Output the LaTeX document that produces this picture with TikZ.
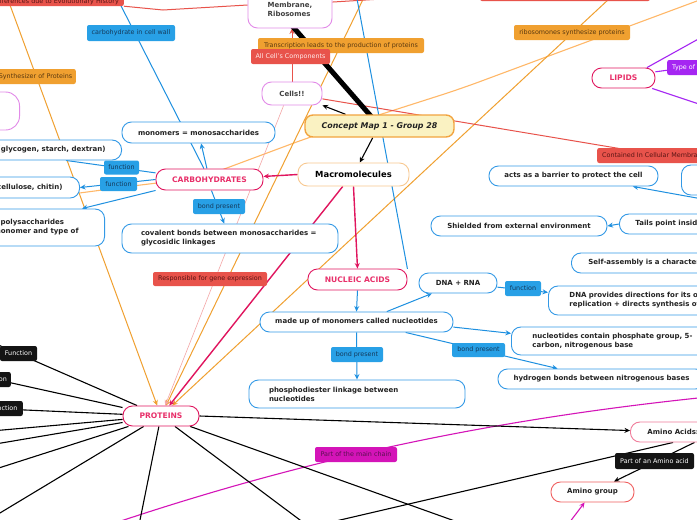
\documentclass[tikz,border=0pt]{standalone}
\usepackage{fontspec}
\setmainfont{DejaVu Sans}
\usetikzlibrary{arrows.meta,calc}
\pgfdeclarelayer{bg}
\pgfsetlayers{bg,main}
\definecolor{bluB}{HTML}{3399E6}
\definecolor{bluLn}{HTML}{1E90E0}
\definecolor{bluF}{HTML}{28A0E6}
\definecolor{bluT}{HTML}{143A5C}
\definecolor{ornF}{HTML}{F0A030}
\definecolor{ornT}{HTML}{5C3A10}
\definecolor{ornLn}{HTML}{F0A030}
\definecolor{ornLight}{HTML}{FFB868}
\definecolor{redF}{HTML}{E8534B}
\definecolor{redT}{HTML}{5A1515}
\definecolor{redLn}{HTML}{E8534B}
\definecolor{crim}{HTML}{E0155E}
\definecolor{crimT}{HTML}{E8306A}
\definecolor{vio}{HTML}{A526F2}
\definecolor{mag}{HTML}{D414B8}
\definecolor{magT}{HTML}{5A1050}
\definecolor{pinkB}{HTML}{E28BE8}
\definecolor{pinkLn}{HTML}{F4A6A6}
\definecolor{yelF}{HTML}{FAF2C2}
\definecolor{yelB}{HTML}{F2A440}
\definecolor{macB}{HTML}{F8C890}
\definecolor{aaB}{HTML}{F07C9A}
\definecolor{agB}{HTML}{F06060}
\definecolor{boxT}{HTML}{222222}
\definecolor{blkF}{HTML}{141414}
\tikzset{
  bx/.style={draw=bluB, line width=0.9pt, fill=white, rounded corners=9.5pt, text=boxT,
    font=\fontsize{7}{9}\selectfont\bfseries, inner sep=0pt, inner xsep=6pt},
  cbx/.style={bx, draw=crim, text=crimT, font=\fontsize{7.6}{9}\selectfont\bfseries},
  vbx/.style={bx, draw=pinkB},
  lbl/.style={rounded corners=2pt, inner sep=0pt, inner xsep=3.5pt, font=\fontsize{6.4}{7}\selectfont},
  blbl/.style={lbl, fill=bluF, text=bluT},
  olbl/.style={lbl, fill=ornF, text=ornT},
  rlbl/.style={lbl, fill=redF, text=redT},
  vlbl/.style={lbl, fill=vio, text=white},
  mlbl/.style={lbl, fill=mag, text=magT},
  klbl/.style={lbl, fill=blkF, text=white},
  bline/.style={draw=bluLn, line width=1pt},
  oline/.style={draw=ornLn, line width=1pt},
  olight/.style={draw=ornLight, line width=1.1pt},
  rline/.style={draw=redLn, line width=1pt},
  cline/.style={draw=crim, line width=1.4pt},
  kline/.style={draw=black, line width=1.1pt},
  vline/.style={draw=vio, line width=1.1pt},
  mline/.style={draw=mag, line width=1.1pt},
  pline/.style={draw=pinkLn, line width=0.6pt},
  >={Stealth[length=5.5pt,width=5pt]}
}
\begin{document}
\begin{tikzpicture}[x=1pt,y=-1pt]
\useasboundingbox (0,0) rectangle (697,520);
\clip (0,0) rectangle (697,520);

% ---------- main nodes ----------
\node[vbx, minimum width=84, minimum height=46, align=left, text=black!75] (top) at (290,5) {Cytoplasm,\\Membrane,\\Ribosomes};
\node[vbx, minimum width=60, minimum height=23, text=black!75] (cells) at (292,93.5) {Cells!!};
\node[draw=yelB, fill=yelF, line width=1.4pt, rounded corners=8pt, minimum width=149, minimum height=22,
  inner sep=0pt, text=boxT, font=\fontsize{7.9}{9}\selectfont\bfseries\itshape] (cm) at (379.5,126) {Concept Map 1 - Group 28};
\node[bx, draw=macB, minimum width=111, minimum height=23, text=black, font=\fontsize{8.4}{10}\selectfont\bfseries] (mac) at (353.5,174.5) {Macromolecules};
\node[cbx, minimum width=107, minimum height=21] (carb) at (209.5,179.5) {CARBOHYDRATES};
\node[bx, minimum width=153, minimum height=21] (mono) at (198.5,132.5) {monomers = monosaccharides};
\node[bx, anchor=east, inner xsep=16pt, minimum height=20] (gly) at (122,150) {(glycogen, starch, dextran)};
\node[bx, anchor=east, inner xsep=17pt, minimum height=21] (cel) at (80,187.5) {(cellulose, chitin)};
\node[bx, anchor=east, inner xsep=26pt, minimum height=37, align=left] (poly) at (105,227.5) {\hspace*{7pt}polysaccharides\\monomer and type of};
\node[bx, text width=178pt, inner xsep=19pt, minimum height=29, align=left] (cov) at (230,238.5) {covalent bonds between monosaccharides =\\glycosidic linkages};
\node[cbx, minimum width=99, minimum height=21] (nuc) at (357.5,279.5) {NUCLEIC ACIDS};
\node[bx, minimum width=193, minimum height=20] (mad) at (356.5,322) {made up of monomers called nucleotides};
\node[bx, text width=176pt, inner xsep=20pt, minimum height=28, align=left] (pho) at (357,394) {phosphodiester linkage between\\nucleotides};
\node[bx, minimum width=78, minimum height=20] (dna) at (458,283) {DNA + RNA};
\node[bx, anchor=west, text width=190pt, inner xsep=21pt, minimum height=29, align=left] (dnap) at (548,300.5) {DNA provides directions for its own\\replication + directs synthesis of RNA};
\node[bx, anchor=west, inner xsep=17pt, minimum height=20] (self) at (571,263) {Self-assembly is a characteristic of phospholipids};
\node[bx, anchor=west, text width=175pt, inner xsep=21pt, minimum height=28, align=left] (nuct) at (511,341) {nucleotides contain phosphate group, 5-\\carbon, nitrogenous base};
\node[bx, minimum width=207, minimum height=20] (hyd) at (601.5,379) {hydrogen bonds between nitrogenous bases};
\node[bx, minimum width=176, minimum height=20] (shi) at (519,226) {Shielded from external environment};
\node[bx, anchor=west, inner xsep=16pt, minimum height=20] (tail) at (619,224) {Tails point inside};
\node[bx, minimum width=169, minimum height=20] (act) at (573.5,176) {acts as a barrier to protect the cell};
\node[bx, anchor=west, minimum width=80, minimum height=30] (unk) at (681,180) {};
\node[cbx, minimum width=63, minimum height=20] (lip) at (623.5,78) {LIPIDS};
\node[cbx, minimum width=76, minimum height=20] (pro) at (161,416) {PROTEINS};
\node[bx, draw=aaB, anchor=west, inner xsep=17pt, minimum height=20] (aa) at (630,432) {Amino Acids:};
\node[bx, draw=agB, minimum width=83, minimum height=20] (ag) at (592.5,492) {Amino group};
\node[vbx, anchor=east, minimum width=60, minimum height=38, rounded corners=14pt] (lv) at (20,111) {};

% ---------- labels ----------
\node[rlbl, minimum width=170, minimum height=16] (toplbl) at (565,-7) {};
\node[rlbl, anchor=east, minimum height=15, inner xsep=5pt] (evo) at (124,-1.5) {\raisebox{-3pt}[\height][\depth]{Differences due to Evolutionary History}};
\node[blbl, minimum width=88, minimum height=16] (l1) at (131,33) {carbohydrate in cell wall};
\node[olbl, anchor=east, minimum height=15] (l2) at (76,76.5) {Synthesizer of Proteins};
\node[olbl, minimum width=166, minimum height=15] (l3) at (341,45.5) {Transcription leads to the production of proteins};
\node[rlbl, minimum width=79, minimum height=15, text=red!8] (l4) at (290.5,56.5) {All Cell's Components};
\node[olbl, minimum width=116, minimum height=15] (l5) at (572,32.5) {ribosomones synthesize proteins};
\node[vlbl, anchor=west, minimum height=15, inner xsep=5pt] (l6) at (667,67.5) {Type of};
\node[rlbl, anchor=west, minimum height=15, inner xsep=5pt] (l7) at (597,155.5) {Contained In Cellular Membrane};
\node[blbl, minimum width=35, minimum height=14] (f1) at (121.5,167.5) {function};
\node[blbl, minimum width=37, minimum height=14] (f2) at (118.5,184) {function};
\node[blbl, minimum width=52, minimum height=15] (bp1) at (219,206.5) {bond present};
\node[rlbl, minimum width=114, minimum height=14] (l8) at (210,279) {Responsible for gene expression};
\node[blbl, minimum width=52, minimum height=15] (bp2) at (357,354.5) {bond present};
\node[blbl, minimum width=36, minimum height=15] (f3) at (523,288.5) {function};
\node[blbl, minimum width=53, minimum height=14] (bp3) at (478.5,350) {bond present};
\node[mlbl, minimum width=82, minimum height=15] (l9) at (356,454.5) {Part of the main chain};
\node[klbl, minimum width=79, minimum height=16] (l10) at (654.5,461) {Part of an Amino acid};
\node[klbl, minimum width=37, minimum height=15] (k1) at (18.5,353.5) {Function};
\node[klbl, anchor=east, minimum height=15, inner xsep=4pt] (k2) at (11,379.5) {Function};
\node[klbl, anchor=east, minimum height=15, inner xsep=5.5pt] (k3) at (23,408.5) {Function};

% ---------- free ends ----------
\coordinate (tk) at (287,20);
\coordinate (ek) at (163,10);
\coordinate (rr) at (760,172);
\coordinate (oa) at (3,-14);
\coordinate (oc) at (370,-15);
\coordinate (ob) at (624,-15);
\coordinate (d0) at (705,-2);
\coordinate (d1) at (460,89);
\coordinate (d2) at (310,137);
\coordinate (d3) at (200,178);
\coordinate (d4) at (140,185);
\coordinate (cw) at (116,-4);
\coordinate (bt) at (355,-12);
\coordinate (ur) at (730,204);
\coordinate (lv1) at (720,27);
\coordinate (lv2) at (730,62);
\coordinate (lv3) at (720,111);
\coordinate (m1) at (100,528);
\coordinate (m2) at (300,460);
\coordinate (m3) at (500,415);
\coordinate (m4) at (760,392);
\coordinate (mg) at (560,535);
\coordinate (al) at (250,541);
\coordinate (e1) at (-20,337);
\coordinate (e2) at (-20,376);
\coordinate (e3) at (-20,408);
\coordinate (e4) at (-20,432);
\coordinate (e5) at (-20,446.6);
\coordinate (e6) at (-20,474);
\coordinate (e7) at (-20,525);
\coordinate (e8) at (138,530);
\coordinate (e9) at (320,535);
\coordinate (e10) at (480,530);

% ---------- connectors ----------
\begin{pgfonlayer}{bg}
\clip (0,0) rectangle (697,520);
\fill[white] (0,0) rectangle (697,520);
% orange
\draw[olight, rounded corners=20pt] (d0) -- (d1) -- (d2) -- (d3) -- (d4) -- (cel.-6);
\draw[oline,->] (oa) -- (pro);
\draw[oline,->] (oc) -- (pro);
\draw[oline,->] (ob) -- (pro);
% red
\draw[rline] (evo.south east) -- (ek) -- (top.west);
\draw[rline] (top.4) -- (toplbl.west);
\draw[rline,->] (cells.north) -- (cells.north |- top.south);
\draw[rline] (cells.-10) -- (rr);
\draw[pline,->] (cells.-125) -- (pro);
% black
\draw[line width=5pt] (cm.center) -- (tk);
\draw[kline,->] (cm.161) -- (cells);
\draw[kline,->] (cm.-120) -- (mac);
% blue
\draw[bline] (cw) -- (carb);
\draw[bline,->] (carb) -- (mono);
\draw[bline] (carb.173) -- ($(gly.south east)+(-56,0)$);
\draw[bline,->] (carb.west) -- (cel.east);
\draw[bline,->] (carb.south west) -- ($(poly.north east)+(-23,0)$);
\draw[bline,->] (carb.-80) -- (cov);
\draw[bline] (bt) -- (nuc.12.7);
\draw[bline,->] (nuc.south) -- (mad.north);
\draw[bline,->] (mad.19) -- (dna);
\draw[bline,->] (mad.-3) -- (nuct.176);
\draw[bline,->] (mad.south) -- (pho.north);
\draw[bline,->] (mad.-12.4) -- (hyd);
\draw[bline,->] (dna.-6) -- (dnap.176);
\draw[bline,->] (tail.west) -- (shi.east);
\draw[bline,->] (ur) -- (act.-10);
% crimson
\draw[cline,->] (mac.west) -- (carb);
\draw[cline,->] (mac.south) -- (nuc.north);
\draw[cline,->] (mac.-132) -- (pro);
% violet
\draw[vline] (lip.24) -- (lv1);
\draw[vline] (lip.11) -- (lv2);
\draw[vline] (lip.-20) -- (lv3);
% magenta
\draw[mline] (m1) .. controls (m2) and (m3) .. (m4);
\draw[mline,->] (mg) -- (ag);
% proteins
\draw[kline,->] (pro.east) -- (aa);
\draw[kline,->] (aa.-26) -- (ag);
\draw[kline] (aa.south) -- (al);
\foreach \e in {e1,e2,e3,e4,e5,e6,e7,e8,e9,e10}
  \draw[kline] (pro) -- (\e);
\end{pgfonlayer}
\end{tikzpicture}
\end{document}
